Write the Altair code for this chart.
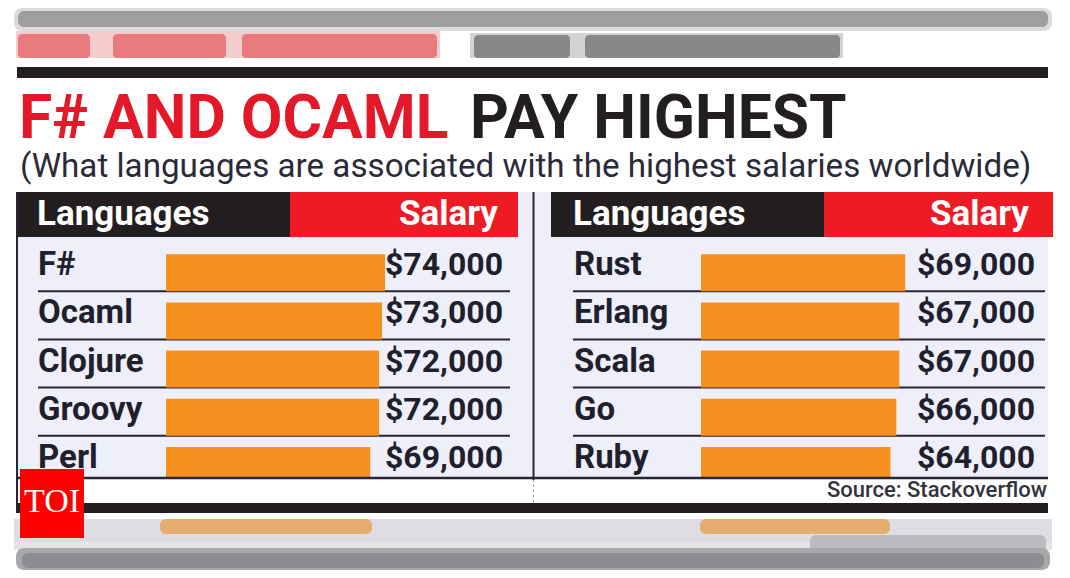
import altair as alt
import pandas as pd

# ---- data -------------------------------------------------------------
left_langs = ["F#", "Ocaml", "Clojure", "Groovy", "Perl"]
left_salary = [74000, 73000, 72000, 72000, 69000]
right_langs = ["Rust", "Erlang", "Scala", "Go", "Ruby"]
right_salary = [69000, 67000, 67000, 66000, 64000]

rows = []
for i, (l, s) in enumerate(zip(left_langs, left_salary)):
    rows.append({"panel": "L", "row": i, "lang": l, "salary": s, "label": f"${s:,}"})
for i, (l, s) in enumerate(zip(right_langs, right_salary)):
    rows.append({"panel": "R", "row": i, "lang": l, "salary": s, "label": f"${s:,}"})
df = pd.DataFrame(rows)

# ---- style ------------------------------------------------------------
W, H = 1054, 562
OFF = 8  # page margin: reference px -> plot px
ORANGE = "#f7901e"
RED = "#ed1c24"
BLACK = "#231f20"
LAV = "#efeff9"
INK = "#1f1f2d"
SANS = "Roboto, 'Open Sans', sans-serif"

dummy = alt.Data(values=[{"k": 0}])


def clampx(v):
    return max(0, min(W, v - OFF))


def clampy(v):
    return max(0, min(H, v - OFF))


def rect(x1, y1, x2, y2, color, opacity=1.0, radius=0):
    return alt.Chart(dummy).mark_rect(color=color, opacity=opacity, cornerRadius=radius).encode(
        x=alt.value(clampx(x1)), x2=alt.value(clampx(x2)),
        y=alt.value(clampy(y1)), y2=alt.value(clampy(y2)))


def rule(x1, y1, x2, y2, color, width=2, dash=None):
    kw = dict(color=color, strokeWidth=width)
    if dash:
        kw["strokeDash"] = dash
    return alt.Chart(dummy).mark_rule(**kw).encode(
        x=alt.value(clampx(x1)), x2=alt.value(clampx(x2)),
        y=alt.value(clampy(y1)), y2=alt.value(clampy(y2)))


def label(txt, x, y, size, color, font=SANS, weight="bold", align="left"):
    return alt.Chart(dummy).mark_text(
        text=txt, align=align, baseline="alphabetic", fontSize=size,
        font=font, fontWeight=weight, color=color).encode(
        x=alt.value(x - OFF), y=alt.value(y - OFF))


# row scale (bands between separators)
yscale = alt.Scale(domain=[0, 1, 2, 3, 4], range=[243 - OFF, 484 - OFF],
                   paddingInner=0, paddingOuter=0)
yenc = alt.Y("row:O", scale=yscale, axis=None)
yedge = alt.Y("row:O", scale=yscale, axis=None, bandPosition=1)

base = alt.Chart(df)

layers = []

# blurred strip at top
layers += [
    rect(14, 8, 1052, 31, "#d2d2d2", 0.8, 8),
    rect(18, 11, 1048, 27, "#939393", 0.85, 6),
    rect(16, 31, 440, 58, "#f4c6c7", 0.9),
    rect(18, 34, 90, 58, "#e4585e", 0.7, 4),
    rect(113, 34, 226, 58, "#e4585e", 0.7, 4),
    rect(242, 34, 437, 58, "#e4585e", 0.7, 4),
    rect(470, 33, 843, 58, "#c8c8c8", 0.8),
    rect(474, 35, 570, 58, "#606060", 0.65, 4),
    rect(585, 35, 840, 58, "#606060", 0.65, 4),
    rect(8, 58, 1062, 520, "#ffffff"),
]

# blurred strip at bottom
layers += [
    rect(14, 519, 1052, 542, "#dedde4", 1.0),
    rect(160, 519, 372, 534, "#e6a45a", 0.85, 6),
    rect(700, 519, 890, 534, "#e6a45a", 0.85, 6),
    rect(14, 542, 1052, 550, "#e4e4e4", 1.0),
    rect(810, 535, 1046, 556, "#b4b2b6", 0.8, 6),
    rect(16, 548, 1050, 570, "#a9a7ac", 1.0, 8),
    rect(22, 553, 1044, 568, "#8e8c91", 1.0, 6),
]

# top rule, title, subtitle
layers += [
    rect(17, 67, 1048, 78, BLACK),
    label("F# AND OCAML", 19, 138, 60.5, "#e3192a"),
    label("PAY HIGHEST", 470, 138, 60.5, BLACK),
    label("(What languages are associated with the highest salaries worldwide)",
          20, 177, 33.2, "#2a2a38", weight="normal"),
]

# panel backgrounds and headers
layers += [
    rect(17, 192, 1048, 478, LAV),
    rect(17, 192, 290, 237, BLACK),
    rect(290, 192, 518, 237, RED),
    rect(551, 192, 824, 237, BLACK),
    rect(824, 192, 1053, 237, RED),
    label("Languages", 37, 225, 35, "white"),
    label("Salary", 498, 225, 35, "white", align="right"),
    label("Languages", 573, 225, 35, "white"),
    label("Salary", 1029, 225, 35, "white", align="right"),
]

# row separators (behind the bars)
for panel, x1, x2 in [("L", 38, 510), ("R", 573, 1045)]:
    layers.append(
        base.transform_filter(f"datum.panel == '{panel}' && datum.row < 4")
        .mark_rule(color="#262636", strokeWidth=2)
        .encode(y=yedge, x=alt.value(x1 - OFF), x2=alt.value(x2 - OFF))
    )

# bars
for panel, x0 in [("L", 166), ("R", 701)]:
    layers.append(
        base.transform_filter(f"datum.panel == '{panel}'")
        .mark_bar(color=ORANGE, height=37, yOffset=5.6)
        .encode(
            x=alt.X("salary:Q", axis=None,
                    scale=alt.Scale(domain=[0, 100000], range=[x0 - OFF, x0 - OFF + 296])),
            y=yenc,
        )
    )

# row labels and values
for panel, lx, vx in [("L", 38, 503), ("R", 574, 1035)]:
    sub = base.transform_filter(f"datum.panel == '{panel}'")
    layers.append(
        sub.mark_text(align="left", baseline="alphabetic", dy=8, fontSize=33,
                      font=SANS, fontWeight="bold", color=INK)
        .encode(x=alt.value(lx - OFF), y=yenc, text="lang:N")
    )
    layers.append(
        sub.mark_text(align="right", baseline="alphabetic", dy=8, fontSize=32,
                      font=SANS, fontWeight="bold", color=INK)
        .encode(x=alt.value(vx - OFF), y=yenc, text="label:N")
    )

# bottom of table, source, frame
layers += [
    rect(18, 479, 1048, 503, "#ffffff"),
    rule(17, 478, 1048, 478, "#262636", 2.5),
    rule(533.5, 192, 533.5, 480, "#262636", 2),
    rule(533.5, 480, 533.5, 502, "#9a9aa8", 1, [2, 3]),
    rule(17, 192, 17, 513, "#262636", 2),
    label("Source: Stackoverflow", 1047, 497, 22, "#333340", weight=500, align="right"),
    rect(17, 503, 1048, 513, BLACK),
]

# TOI badge
layers += [
    rect(20, 469, 84, 538, "#ff0000"),
    label("TOI", 52, 512, 34, "white", font="'Liberation Serif', 'DejaVu Serif', serif",
          weight="normal", align="center"),
]

chart = (
    alt.layer(*layers)
    .resolve_scale(x="independent")
    .properties(width=W, height=H, padding=0, background="white",
                autosize=alt.AutoSizeParams(type="none"))
    .configure_view(stroke=None)
)

chart.save("out.html", embed_options={"renderer": "svg", "actions": False})
